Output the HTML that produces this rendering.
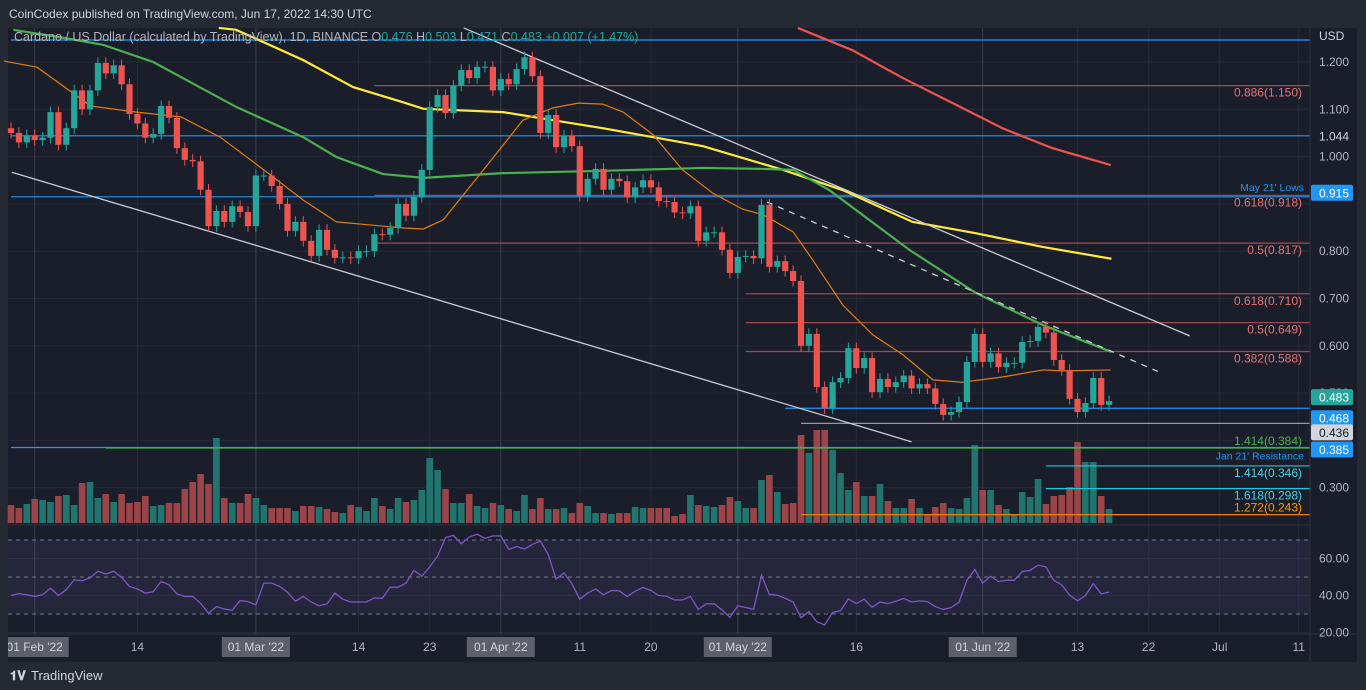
<!DOCTYPE html>
<html><head><meta charset="utf-8">
<style>
html,body{margin:0;padding:0;background:#252934;}
svg{display:block;font-family:"Liberation Sans",sans-serif;}
</style></head>
<body>
<svg id="chart" width="1366" height="690" viewBox="0 0 1366 690" xmlns="http://www.w3.org/2000/svg">
<rect x="0" y="0" width="1366" height="690" fill="#252934"/>
<text x="9" y="18" font-size="12" fill="#d1d4dc">CoinCodex published on TradingView.com, Jun 17, 2022 14:30 UTC</text>
<rect x="8" y="28" width="1349" height="634" fill="#1a1e2a"/>
<g id="grid"></g>
<g id="rsi"></g>
<g id="vol"></g>
<g id="levels"></g>
<g id="mas"></g>
<g id="trend"></g>
<g id="candles"></g>
<rect x="1310" y="28" width="47" height="606" fill="#1a1e2a"/>
<line x1="1310" y1="28" x2="1310" y2="662" stroke="#2f3340"/>
<line x1="8" y1="634" x2="1357" y2="634" stroke="#2f3340"/>
<line x1="8" y1="525" x2="1310" y2="525" stroke="#2f3340"/>
<g id="axis"></g>
<text x="14" y="41" font-size="12.5" fill="#b2b5be">Cardano / US Dollar (calculated by TradingView), 1D, BINANCE  O<tspan fill="#26a69a">0.476</tspan>  H<tspan fill="#26a69a">0.503</tspan>  L<tspan fill="#26a69a">0.471</tspan>  C<tspan fill="#26a69a">0.483</tspan> <tspan fill="#26a69a">+0.007 (+1.47%)</tspan></text>
<g>
<text x="10" y="680" font-size="13" font-weight="bold" fill="#d1d4dc">𝟏𝐕</text>
<text x="31" y="680" font-size="13" fill="#d1d4dc">TradingView</text>
</g>
</svg>
<script>
const closes=[1.05,1.03,1.045,1.035,1.04,1.094,1.025,1.06,1.14,1.10,1.14,1.198,1.176,1.193,1.153,1.09,1.07,1.04,1.048,1.107,1.082,1.018,0.993,0.99,0.93,0.853,0.885,0.862,0.895,0.883,0.853,0.96,0.96,0.938,0.90,0.843,0.862,0.822,0.79,0.845,0.803,0.786,0.787,0.785,0.80,0.80,0.836,0.835,
0.849,0.90,0.875,0.915,0.972,1.105,1.13,1.092,1.15,1.183,1.166,1.19,1.19,1.14,1.164,1.153,1.185,1.21,1.17,1.05,1.088,1.02,1.044,1.022,0.917,0.953,0.974,0.93,0.953,0.948,0.914,0.935,0.95,0.935,0.906,0.904,0.882,0.88,0.895,0.822,0.84,0.84,0.803,0.754,0.788,0.79,0.785,
0.898,0.767,0.779,0.758,0.737,0.60,0.625,0.513,0.468,0.523,0.532,0.595,0.553,0.574,0.502,0.53,0.513,0.523,0.537,0.51,0.519,0.51,0.477,0.454,0.46,0.481,0.566,0.625,0.566,0.584,0.555,0.564,0.564,0.608,0.61,0.64,0.628,0.57,0.549,0.488,0.46,0.479,0.532,0.475,0.483];
const volumes=[18,15,19,24,23,21,27,28,18,40,41,25,29,21,29,20,21,27,17,18,20,20,34,41,49,39,85,25,20,20,29,25,18,15,15,15,12,17,17,16,14,11,10,18,16,12,25,17,14,25,21,23,33,65,53,34,20,20,29,17,15,20,18,14,12,28,14,25,14,14,
15,10,20,17,10,10,9,10,10,16,15,15,15,15,7,9,28,18,17,16,18,26,22,15,15,43,48,31,19,20,88,70,93,93,73,50,33,41,27,27,39,22,15,15,24,15,9,16,20,15,14,25,78,33,33,18,14,9,31,26,44,19,27,28,36,81,61,61,27,14];
const rsiVals=[40,41,40.4,39.5,40.4,44,40,43.1,48.5,48,49.5,53.1,51.6,53.1,49.8,44.9,43.5,41.3,42,47.6,45.8,40.9,39.5,39.5,35.8,30.4,34,32.7,32,37.3,36.7,34.9,46.7,46.7,44.9,41.8,36.9,39.5,36.5,34.4,35.5,41.3,38,36.5,36.5,36.5,38.7,38.5,44.5,44.5,46.7,53.6,50.4,55.5,61.3,71.3,72.5,68,71.6,73.1,70.9,72.2,72.2,64.9,66.5,65.1,67.6,69.5,62.2,48.9,52.2,46.4,
38,41.3,43.5,40.4,42.7,42.5,39.5,42.2,44.4,42.7,40,39.6,37.6,37.6,39.5,32.5,35.5,35.5,32.2,28.2,34.4,33.5,32.5,50.9,40.5,40.2,38.5,36.5,28,31.3,25.8,24,30.9,31.8,38.2,35.6,38,33.6,36.5,35.6,36.9,38.4,36.5,37.1,36.7,34,32.4,33.5,36.4,48.2,54,46.7,50.4,47.5,48.2,48.2,52.9,53.6,56.4,55.5,48.2,45.8,40.2,37.1,40,46.4,40.9,41.8];
const ma20Days=[-3.9,0.3,7.1,12.9,18.5,23.5,29,34,38.2,46.7,49.2,51.7,56.8,61.8,65.6,68.8,71.9,74.5,78.3,82,85.8,89.6,92.2,96,98.5,102.3,106.1,109.9,113.7,117.4,122.5,127.6,130.1,136.2];
const ma20Vals=[1.202,1.189,1.107,1.094,1.084,1.041,0.972,0.908,0.862,0.849,0.847,0.866,0.972,1.077,1.103,1.113,1.111,1.094,1.046,0.972,0.923,0.889,0.877,0.841,0.781,0.686,0.623,0.581,0.528,0.523,0.534,0.549,0.547,0.549];
const ma50Days=[-2.7,3.7,8.7,15,25.5,34,38.2,44.1,49.2,59.3,71.9,84.6,92.2,96,100.6,110.7,119.1,127.6,136.3];
const ma50Vals=[1.268,1.251,1.236,1.2,1.105,1.041,0.999,0.963,0.955,0.965,0.970,0.976,0.974,0.972,0.929,0.803,0.712,0.644,0.587];
const ma100Days=[23.3,25.5,34,40.3,46.6,49.2,59.3,65.6,71.9,78.3,84.6,94.7,102.3,111.1,119.1,127.6,136.3];
const ma100Vals=[1.272,1.268,1.204,1.147,1.115,1.101,1.094,1.077,1.060,1.041,1.022,0.972,0.929,0.862,0.838,0.809,0.784];
const ma200Days=[96.6,103.5,109.9,116.2,122.5,128.8,136.2];
const ma200Vals=[1.272,1.225,1.166,1.113,1.06,1.018,0.982];
const priceTicks=[1.2,1.1,1.0,0.9,0.8,0.7,0.6,0.5,0.4,0.3];
const priceTickLabels=["1.200","1.100","1.000","","0.800","0.700","0.600","0.500","","0.300"];
const rsiTicks=[60,40,20];
const timeTickDays=[0,13,28,41,50,59,69,78,89,104,120,132,141,150,160];
const timeTickLabels=["01 Feb '22","14","01 Mar '22","14","23","01 Apr '22","11","20","01 May '22","16","01 Jun '22","13","22","Jul","11"];
const timeTickMonth=[1,0,1,0,0,1,0,0,1,0,1,0,0,0,0];
const levelPrices=[1.2465,1.150,1.044,0.915,0.918,0.817,0.710,0.649,0.588,0.468,0.436,0.385,0.384,0.346,0.298,0.243];
const levelStartDays=[-3,43,-3,-3,43,43,90,90,90,95,97,-3,9,128,128,97];
const levelColors=["#2196f3","#a2484e","#2196f3","#2196f3","#a2484e","#a2484e","#a2484e","#a2484e","#a2484e","#2196f3","#9598a1","#2196f3","#4caf50","#26c6da","#26c6da","#f57c00"];
const levelLabels=["","0.886(1.150)","","","0.618(0.918)","0.5(0.817)","0.618(0.710)","0.5(0.649)","0.382(0.588)","","","Jan 21' Resistance","1.414(0.384)","1.414(0.346)","1.618(0.298)","1.272(0.243)"];
const levelLabelColors=["","#e57373","","","#e57373","#e57373","#e57373","#e57373","#e57373","","","#2196f3","#4caf50","#4dd0e1","#4dd0e1","#ff9800"];
const trendStartDays=[54.3,-2.9,92.7];
const trendStartVals=[1.272,0.967,0.904];
const trendEndDays=[146.2,111,142.7];
const trendEndVals=[0.621,0.397,0.542];
const axisBadgePrices=[1.044,0.915,0.483,0.468,0.436,0.385];
const axisBadgeOffsets=[0,-4,-4,10,9,2];
const axisBadgeColors=["#1a1e2a","#2196f3","#26a69a","#2196f3","#d1d4dc","#2196f3"];
const axisBadgeText=["#d1d4dc","#ffffff","#ffffff","#ffffff","#131722","#ffffff"];

const NS="http://www.w3.org/2000/svg";
const X0=11, STEP=7.9, OFF=3;
function xOfIdx(i){return X0+i*STEP;}
function xOfDay(d){return xOfIdx(d+OFF);}
function yP(p){return 62+(1.2-p)*473;}
function yV(v){return 523-v;}
function yR(v){return 577-(v-50)*1.85;}
function mk(tag,attrs,parent){const e=document.createElementNS(NS,tag);for(const k in attrs)e.setAttribute(k,attrs[k]);parent.appendChild(e);return e;}

const grid=document.getElementById('grid');
priceTicks.forEach(p=>{const l=mk('line',{x1:8,x2:1310,y1:yP(p),y2:yP(p),stroke:'#262a36'},grid);

});
rsiTicks.forEach(v=>{const l=mk('line',{x1:8,x2:1310,y1:yR(v),y2:yR(v),stroke:'#262a36'},grid);

});
timeTickDays.forEach((d,k)=>{const x=xOfDay(d);const l=mk('line',{x1:x,x2:x,y1:28,y2:634,stroke:timeTickMonth[k]?'#3b3f4b':'#262a36'},grid);

});

const rsi=document.getElementById('rsi');
const band=mk('rect',{x:8,y:yR(70),width:1302,height:yR(30)-yR(70),fill:'rgba(126,87,194,0.12)'},rsi);


[70,50,30].forEach(v=>{const l=mk('line',{x1:8,x2:1310,y1:yR(v),y2:yR(v),stroke:'#787b86','stroke-dasharray':'4 4'},rsi);

});
const rl=mk('polyline',{points:rsiVals.map((v,i)=>xOfIdx(i)+','+yR(v)).join(' '),fill:'none',stroke:'#7e57c2','stroke-width':1.3},rsi);



const cg=document.getElementById('candles'), vg=document.getElementById('vol');
closes.forEach((c,i)=>{
 const o=i===0?c+0.01:closes[i-1];
 const up=c>=o, col=up?'#26a69a':'#ef5350';
 const x=xOfIdx(i);
 const hi=Math.max(o,c)+0.012, lo=Math.min(o,c)-0.012;
 const w=mk('line',{x1:x,x2:x,y1:yP(hi),y2:yP(lo),stroke:col},cg);
 
 
 const top=yP(Math.max(o,c)), h=Math.max(1,yP(Math.min(o,c))-top);
 const b=mk('rect',{x:x-3.1,y:top,width:6.2,height:h,fill:col},cg);
 
 
 const v=volumes[i]||0;
 const vb=mk('rect',{x:x-3.3,y:yV(v),width:6.6,height:v,fill:up?'#22756f':'#9b4549'},vg);
 
 
});

const lg=document.getElementById('levels');
levelPrices.forEach((p,k)=>{
 const y=yP(p);
 const l=mk('line',{x1:xOfDay(levelStartDays[k]),x2:1310,y1:y,y2:y,stroke:levelColors[k],'stroke-width':1.2},lg);
 
 
 if(levelLabels[k]){
  const above=(levelLabels[k]==='1.414(0.384)'||levelLabels[k]==='1.272(0.243)');
  const isRes=levelLabels[k].indexOf('Resistance')>=0;
  const t=mk('text',{x:isRes?1304:1302,y:above?y-3:(isRes?y+12:y+11),'text-anchor':'end','font-size':isRes?10.5:12,fill:levelLabelColors[k]},lg);
  t.textContent=levelLabels[k];
  
  
 }
});
const ml=mk('text',{x:1304,y:yP(0.915)-6,'text-anchor':'end','font-size':10.5,fill:'#2196f3'},lg);
ml.textContent="May 21' Lows";



const mg=document.getElementById('mas');
function ma(days,vals,col,w,name){const l=mk('polyline',{points:days.map((d,i)=>xOfDay(d)+','+yP(vals[i])).join(' '),fill:'none',stroke:col,'stroke-width':w},mg);

}
ma(ma200Days,ma200Vals,'#ef5350',2.2,'ma-200');
ma(ma100Days,ma100Vals,'#ffeb3b',2.2,'ma-100');
ma(ma50Days,ma50Vals,'#4caf50',2.2,'ma-50');
ma(ma20Days,ma20Vals,'#e17e0b',1.2,'ma-20');

const tg=document.getElementById('trend');
trendStartDays.forEach((d,k)=>{
 const l=mk('line',{x1:xOfDay(d),y1:yP(trendStartVals[k]),x2:xOfDay(trendEndDays[k]),y2:yP(trendEndVals[k]),stroke:'#c9ccd4','stroke-width':1.3},tg);
 if(k===2)l.setAttribute('stroke-dasharray','6 6');
 
 
});

const ag=document.getElementById('axis');
const usd=mk('text',{x:1319,y:40,'font-size':12,fill:'#d1d4dc'},ag);usd.textContent='USD';


priceTicks.forEach((p,k)=>{if(!priceTickLabels[k])return;const t=mk('text',{x:1319,y:yP(p)+4,'font-size':12,fill:'#b2b5be'},ag);t.textContent=priceTickLabels[k];

});
rsiTicks.forEach(v=>{const t=mk('text',{x:1319,y:yR(v)+4,'font-size':12,fill:'#b2b5be'},ag);t.textContent=v.toFixed(2);

});
axisBadgePrices.forEach((p,k)=>{const y=yP(p)+axisBadgeOffsets[k];
 const r=mk('rect',{x:1311,y:y-8,width:42,height:16,rx:2,fill:axisBadgeColors[k]},ag);
 
 
 const t=mk('text',{x:1319,y:y+4.5,'font-size':12,fill:axisBadgeText[k]},ag);t.textContent=p.toFixed(3);
 
 });
timeTickDays.forEach((d,k)=>{const x=xOfDay(d);
 if(timeTickMonth[k]){const r=mk('rect',{x:x-34,y:637,width:68,height:20,fill:'#5d606b'},ag);
 
 }
 const t=mk('text',{x:x,y:651,'text-anchor':'middle','font-size':12,fill:timeTickMonth[k]?'#d1d4dc':'#b2b5be'},ag);t.textContent=timeTickLabels[k];
 
 });
const cover=mk('rect',{x:0,y:630,width:8,height:40,fill:'#252934'},ag);


</script>
</body></html>
